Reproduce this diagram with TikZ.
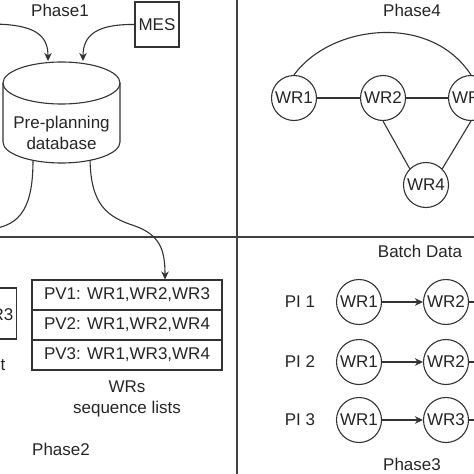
\documentclass[tikz,border=0pt]{standalone}
\usepackage{fontspec}
\setmainfont{Liberation Sans}
\usetikzlibrary{arrows.meta}
\begin{document}
\begin{tikzpicture}[x=1pt,y=-1pt,
  every node/.style={font=\fontsize{17}{21}\selectfont, text=black!85},
  ln/.style={draw=black!80, line width=1.1pt},
  arr/.style={ln, -{Stealth[length=8pt,width=7.5pt,inset=2.5pt]}},
  wr/.style={circle, draw=black!80, line width=1.1pt, minimum size=45pt, inner sep=0pt},
  row/.style={draw=black!80, line width=1.1pt, minimum width=190pt, minimum height=30pt, inner sep=0pt},
  lbl/.style={inner sep=0pt},
  divider/.style={draw=black!75, line width=1.3pt}]
\useasboundingbox (0,0) rectangle (474,474);
\clip (0,0) rectangle (474,474);
\fill[white] (0,0) rectangle (474,474);

% dividers
\coordinate (hl) at (0,237);
\coordinate (hr) at (474,237);
\coordinate (vt) at (237,0);
\coordinate (vb) at (237,474);
\draw[divider] (hl) -- (hr);
\draw[divider] (vt) -- (vb);

% ---------- Phase 1 ----------
\node[lbl] (ph1) at (60,10) {Phase1};
\node[ln, minimum width=44pt, minimum height=45pt, inner sep=0pt] (mes) at (157,24.5) {MES};
\path[ln, fill=white] (3,83) -- (3,142) .. controls (3,153.6) and (29.3,163) .. (61.5,163)
  .. controls (93.7,163) and (120,153.6) .. (120,142) -- (120,83);
\draw[ln] (61.5,83) ellipse[x radius=58.5, y radius=21];
\node[minimum width=117pt, minimum height=101pt, inner sep=0pt] (db) at (61.5,112.5) {};
\node[lbl, align=center] (dbtext) at (61.5,133) {Pre-planning\\database};
\coordinate (src) at (-10,24);
\coordinate (in1) at (48,61);
\coordinate (in2) at (83,61);
\draw[arr] (src) .. controls (35,24) and (48,35) .. (in1);
\draw[arr] (mes.west) .. controls (97,24) and (83,35) .. (in2);
\coordinate (out1) at (33,160);
\coordinate (out2) at (90,160);
\coordinate (offl) at (-10,229);
\draw[ln] (out1) .. controls (33,205) and (22,226) .. (offl);
\coordinate (tipx) at (165,0);

% ---------- Phase 2 ----------
\node[row] (pv1) at (127,295) {PV1: WR1,WR2,WR3};
\node[row] (pv2) at (127,325) {PV2: WR1,WR2,WR4};
\node[row] (pv3) at (127,355) {PV3: WR1,WR3,WR4};
\draw[arr] (out2) .. controls (91,205) and (107,217) .. (135,226)
  .. controls (160,235) and (165,250) .. (pv1.north -| tipx);
\node[lbl, align=center] (wrs) at (127,399) {WRs\\sequence lists};
\node[lbl] (ph2) at (61,449) {Phase2};
\node[ln, minimum width=80pt, minimum height=51pt, inner sep=0pt, anchor=east] (lbox) at (17,313.5) {};
\node[lbl, anchor=east] (lboxt) at (13.5,315) {WR3};
\node[lbl, anchor=east] (ltxt) at (5.5,364) {list};

% ---------- Phase 4 ----------
\node[lbl] (ph4) at (412,10) {Phase4};
\node[wr] (w1) at (294,98) {WR1};
\node[wr] (w2) at (383,98) {WR2};
\node[wr] (w3) at (471,98) {WR3};
\node[wr] (w4) at (426,185) {WR4};
\draw[ln] (w1) -- (w2);
\draw[ln] (w2) -- (w3);
\draw[ln] (w2.south) -- (w4.north west);
\draw[ln] (w3.south) -- (w4.north east);
\draw[ln] (w1.north) .. controls (330,25) and (430,12) .. (w3.north);

% ---------- Phase 3 ----------
\node[lbl] (bd) at (420,251) {Batch Data};
\node[lbl] (ph3) at (412,464) {Phase3};
\node[lbl] (pi1) at (300,302) {PI 1};
\node[lbl] (pi2) at (300,362) {PI 2};
\node[lbl] (pi3) at (300,420) {PI 3};
\node[wr] (a1) at (359,302) {WR1};
\node[wr] (b1) at (446,302) {WR2};
\node[wr] (a2) at (359,362) {WR1};
\node[wr] (b2) at (446,362) {WR2};
\node[wr] (a3) at (359,420) {WR1};
\node[wr] (b3) at (446,420) {WR3};
\coordinate (c1) at (500,302);
\coordinate (c2) at (500,362);
\coordinate (c3) at (500,420);
\draw[arr] (a1) -- (b1);
\draw[arr] (a2) -- (b2);
\draw[arr] (a3) -- (b3);
\draw[ln] (b1) -- (c1);
\draw[ln] (b2) -- (c2);
\draw[ln] (b3) -- (c3);
\end{tikzpicture}
\end{document}
